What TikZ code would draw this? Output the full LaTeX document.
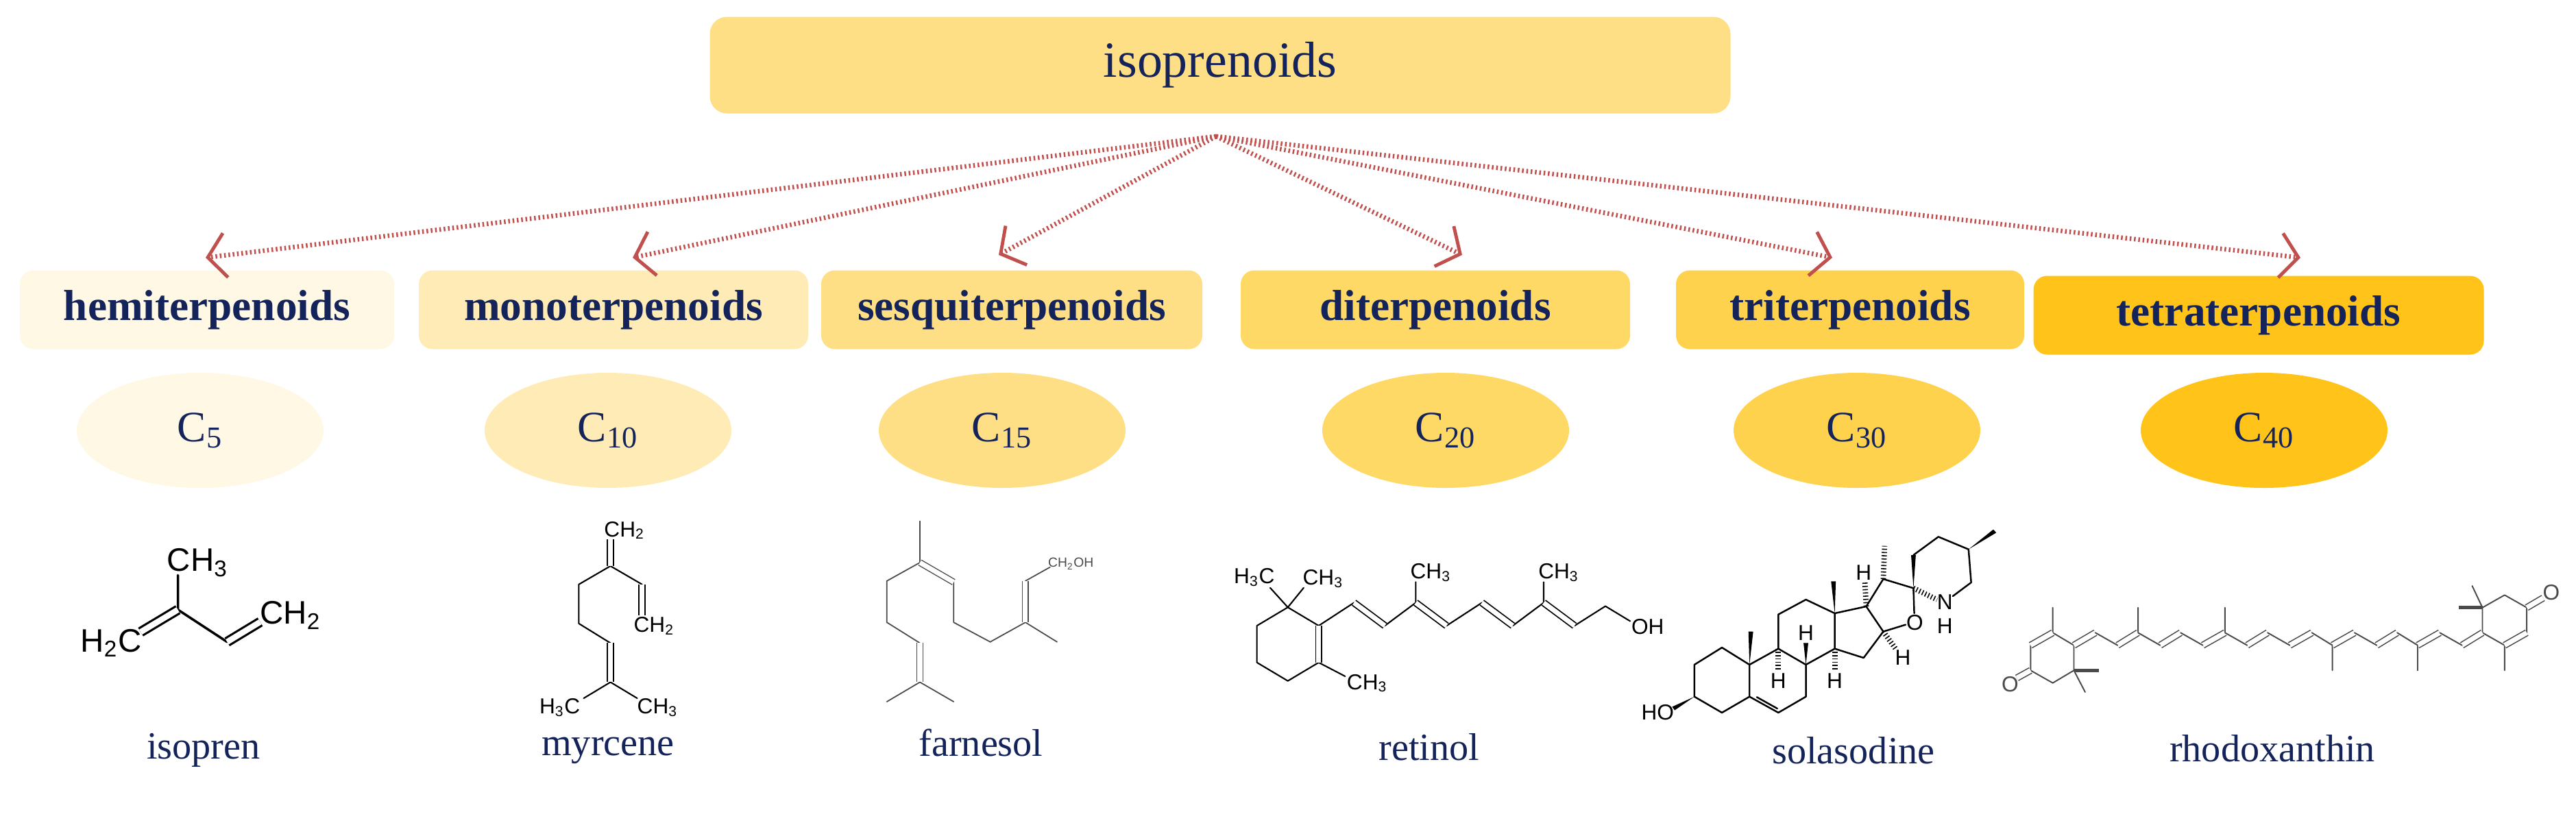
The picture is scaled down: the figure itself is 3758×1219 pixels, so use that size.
\documentclass[tikz,border=0pt]{standalone}
\usepackage{fontspec}
\setmainfont{Liberation Serif}
\newfontfamily\chemfont{Liberation Sans}
\usepackage{tikz}
\usepackage{xcolor}
\usetikzlibrary{arrows.meta, calc, shapes.geometric}

\definecolor{navy}{HTML}{14235A}
\definecolor{arrowred}{HTML}{C0504D}
\definecolor{shadeA}{HTML}{FFF8E5}
\definecolor{shadeB}{HTML}{FFEBB5}
\definecolor{shadeC}{HTML}{FFDF85}
\definecolor{shadeD}{HTML}{FFD966}
\definecolor{shadeE}{HTML}{FFD24D}
\definecolor{shadeF}{HTML}{FFC31A}
\definecolor{bondgray}{HTML}{4A4A4A}

\tikzset{
  title/.style={rounded corners=2.5mm, fill=shadeC, minimum width=148.9mm, minimum height=14.1mm,
    text=navy, font=\fontsize{21}{25}\selectfont},
  classbox/.style={rounded corners=2mm, minimum height=11.5mm, text=navy,
    font=\fontsize{18}{22}\selectfont\bfseries},
  carbons/.style={ellipse, minimum width=36mm, minimum height=16.8mm, text=navy,
    font=\fontsize{18}{22}\selectfont},
  compound/.style={text=navy, font=\fontsize{16}{20}\selectfont},
  dotarrow/.style={arrowred, line width=1.9pt, dash pattern=on 0.7pt off 1.1pt,
    -{Straight Barb[length=2.6mm, width=6.5mm, line width=1.4pt]}},
  bond/.style={line width=0.6pt, line join=round, line cap=round},
  dbl/.style={double, double distance=2pt, line width=0.5pt},
  hash/.style={line width=2.2pt, dash pattern=on 0.45pt off 0.9pt},
  atom/.style={inner sep=0.5pt, font=\chemfont\fontsize{9}{10}\selectfont},
}
\newcommand{\wedgebond}[2]{\fill (#1) -- ($(#2)!0.9mm!90:(#1)$) -- ($(#2)!0.9mm!-90:(#1)$) -- cycle;}

\begin{document}
\begin{tikzpicture}[x=0.1mm, y=-0.1mm]
  \useasboundingbox (0,0) rectangle (3758,1219);

  % top level
  \node[title] (iso) at (1780,95) {isoprenoids};
  \coordinate (src) at (1774,199);

  % classes
  \node[classbox, fill=shadeA, minimum width=54.6mm] (hemi)   at (302,452)  {hemiterpenoids};
  \node[classbox, fill=shadeB, minimum width=56.8mm] (mono)   at (895,452)  {monoterpenoids};
  \node[classbox, fill=shadeC, minimum width=55.6mm] (sesqui) at (1476,452) {sesquiterpenoids};
  \node[classbox, fill=shadeD, minimum width=56.8mm] (di)     at (2094,452) {diterpenoids};
  \node[classbox, fill=shadeE, minimum width=50.8mm] (tri)    at (2699,452) {triterpenoids};
  \node[classbox, fill=shadeF, minimum width=65.7mm] (tetra)  at (3295,460) {tetraterpenoids};

  % arrow ends
  \coordinate (tHemi) at (300,376);
  \coordinate (tMono) at (923,376);
  \coordinate (tSesqui) at (1457,372);
  \coordinate (tDi) at (2133,372);
  \coordinate (tTri) at (2673,376);
  \coordinate (tTetra) at (3356,376);
  \foreach \t in {tHemi, tMono, tSesqui, tDi, tTri, tTetra}
    \draw[dotarrow] (src) -- (\t);

  % carbon numbers
  \node[carbons, fill=shadeA] (c5)  at (292,628)  {C\textsubscript{5}};
  \node[carbons, fill=shadeB] (c10) at (887,628)  {C\textsubscript{10}};
  \node[carbons, fill=shadeC] (c15) at (1462,628) {C\textsubscript{15}};
  \node[carbons, fill=shadeD] (c20) at (2109,628) {C\textsubscript{20}};
  \node[carbons, fill=shadeE] (c30) at (2709,628) {C\textsubscript{30}};
  \node[carbons, fill=shadeF] (c40) at (3303,628) {C\textsubscript{40}};

  % compound names
  \node[compound] (nIsopren)  at (297,1095)  {isopren};
  \node[compound] (nMyrcene)  at (887,1095)  {myrcene};
  \node[compound] (nFarnesol) at (1431,1084) {farnesol};
  \node[compound] (nRetinol)  at (2085,1090) {retinol};
  \node[compound] (nSolaso)   at (2704,1095) {solasodine};
  \node[compound] (nRhodo)    at (3315,1092) {rhodoxanthin};

  % isopren, myrcene, farnesol
  \begin{scope}[shift={(80,680)}, xscale=1.026, yscale=0.3356]
    \draw[bond, line width=1pt] (175,625) -- (175,475) (175,625) -- (245,765);
    \draw[line width=0.9pt, double, double distance=2.4pt] (175,625) -- (122,722);
    \draw[line width=0.9pt, double, double distance=2.4pt] (245,765) -- (292,678);
    \node[atom, font=\chemfont\fontsize{13.5}{14}\selectfont] (ch3) at (203,420) {CH\textsubscript{3}};
    \node[atom, font=\chemfont\fontsize{13.5}{14}\selectfont] (h2c) at (80,770) {H\textsubscript{2}C};
    \node[atom, font=\chemfont\fontsize{13.5}{14}\selectfont] (ch2) at (335,650) {CH\textsubscript{2}};
    % myrcene
    \draw[bond] (790,435) -- (745,515) -- (745,685) -- (790,770)
                (790,940) -- (752,1010) (790,940) -- (828,1010) (790,435) -- (835,515);
    \draw[dbl] (790,318) -- (790,435);
    \draw[dbl] (790,770) -- (790,940);
    \draw[dbl] (835,515) -- (835,650);
    \node[atom] (myA) at (810,280) {CH\textsubscript{2}};
    \node[atom] (myB) at (852,695) {CH\textsubscript{2}};
    \node[atom] (myC) at (718,1050) {H\textsubscript{3}C};
    \node[atom] (myD) at (857,1050) {CH\textsubscript{3}};
    % farnesol
    \begin{scope}[bondgray]
      \draw[bond, line width=0.5pt] (1230,240) -- (1230,420) -- (1183,500) -- (1183,680) -- (1230,770)
        (1230,940) -- (1183,1025) (1230,940) -- (1278,1025)
        (1278,505) -- (1278,680) -- (1330,765) -- (1380,680) -- (1425,765)
        (1380,500) -- (1415,440);
      \draw[dbl, line width=0.4pt] (1230,770) -- (1230,940);
      \draw[dbl, line width=0.4pt] (1230,420) -- (1278,505);
      \draw[dbl, line width=0.4pt] (1380,680) -- (1380,500);
      \node[atom, anchor=west, font=\chemfont\fontsize{5.5}{6}\selectfont] (fOH) at (1410,425) {CH\textsubscript{2}OH};
    \end{scope}
  \end{scope}

  % retinol
  \begin{scope}[shift={(1750,700)}, xscale=1.287, yscale=0.3356]
    \draw[bond] (135,635) -- (100,555) -- (65,635) -- (65,795) -- (100,875) -- (135,795)
      (100,555) -- (80,470) (100,555) -- (118,470) (135,795) -- (165,855)
      (135,635) -- (175,535) (210,635) -- (245,535) -- (245,445)
      (280,635) -- (320,535) (355,635) -- (390,535) -- (390,445)
      (425,635) -- (460,550) -- (488,615);
    \foreach \xa/\ya/\xb/\yb in {135/635/135/795, 175/535/210/635, 245/535/280/635, 320/535/355/635, 390/535/425/635}
      \draw[dbl] (\xa,\ya) -- (\xb,\yb);
    \node[atom] (rA) at (62,425) {H\textsubscript{3}C};
    \node[atom] (rB) at (140,430) {CH\textsubscript{3}};
    \node[atom] (rC) at (190,885) {CH\textsubscript{3}};
    \node[atom] (rD) at (262,405) {CH\textsubscript{3}};
    \node[atom] (rE) at (407,405) {CH\textsubscript{3}};
    \node[atom] (rOH) at (508,640) {OH};
  \end{scope}

  % solasodine
  \begin{scope}[shift={(2380,760)}, xscale=0.3827, yscale=0.3333]
    \draw[bond, line width=0.7pt]
      (240,630) -- (345,555) -- (450,630) -- (450,770) -- (345,840) -- (240,770) -- cycle
      (450,630) -- (560,560) -- (665,630) -- (665,770) -- (560,840) -- (450,770)
      (560,560) -- (560,410) -- (665,345) -- (775,405) -- (775,560) -- (665,630)
      (775,405) -- (895,375) -- (960,485) -- (885,600) -- (775,560)
      (895,375) -- (960,255) -- (1075,295) -- (1078,405)
      (1045,455) -- (960,485)
      (1075,150) -- (1170,70) -- (1285,125) -- (1295,270) -- (1225,330);
    \draw[bond, line width=0.7pt] (478,772) -- (556,822);
    \node[atom] (sO) at (1080,445) {O};
    \node[atom] (sN) at (1195,355) {N};
    \node[atom] (sNH) at (1195,460) {H};
    \node[atom] (sHO) at (100,840) {HO};
    \node[atom] (sH1) at (560,700) {H};
    \node[atom] (sH2) at (665,490) {H};
    \node[atom] (sH3) at (775,700) {H};
    \node[atom] (sH4) at (885,228) {H};
    \node[atom] (sH5) at (1035,600) {H};
    \wedgebond{450,630}{455,485}
    \wedgebond{775,405}{770,265}
    \wedgebond{665,630}{665,535}
    \wedgebond{240,770}{160,822}
    \wedgebond{1075,295}{1075,150}
    \wedgebond{1285,125}{1385,45}
    \draw[hash] (560,560) -- (560,655);
    \draw[hash] (775,560) -- (775,655);
    \draw[hash] (895,375) -- (890,270);
    \draw[hash] (960,255) -- (965,110);
    \draw[hash] (960,485) -- (1010,565);
    \draw[hash] (1075,295) -- (1165,345);
  \end{scope}

  % rhodoxanthin
  \begin{scope}[shift={(2920,820)}, xscale=0.4975, yscale=0.3333, bondgray]
    \draw[bond, line width=0.55pt]
      (150,310) -- (212,365) -- (212,475) -- (150,530) -- (85,475) -- (85,365)
      (150,310) -- (150,200) (212,475) -- (245,570)
      (400,310) -- (400,200) (655,310) -- (655,200) (970,365) -- (970,475) (1220,365) -- (1220,475)
      (1475,365) -- (1410,310) -- (1410,200) -- (1475,145) -- (1540,200) -- (1540,310)
      (1475,365) -- (1475,475) (1410,200) -- (1380,105);
    \draw[line width=1.6pt] (212,475) -- (285,475) (1410,200) -- (1340,200);
    \foreach \xa/\xb in {212/275, 340/400, 465/525, 590/655, 720/780, 845/910, 970/1035, 1100/1160, 1220/1285, 1350/1410}
      \draw[dbl, line width=0.45pt] (\xa,365) -- (\xb,310);
    \foreach \xa/\xb in {275/340, 400/465, 525/590, 655/720, 780/845, 910/970, 1035/1100, 1160/1220, 1285/1350}
      \draw[bond, line width=0.55pt] (\xa,310) -- (\xb,365);
    \draw[dbl, line width=0.45pt] (85,365) -- (150,310);
    \draw[dbl, line width=0.45pt] (1540,310) -- (1475,365);
    \draw[dbl, line width=0.45pt] (85,475) -- (45,508);
    \draw[dbl, line width=0.45pt] (1540,200) -- (1588,158);
    \node[atom, text=bondgray] (oL) at (25,535) {O};
    \node[atom, text=bondgray] (oR) at (1612,135) {O};
  \end{scope}
\end{tikzpicture}
\end{document}
